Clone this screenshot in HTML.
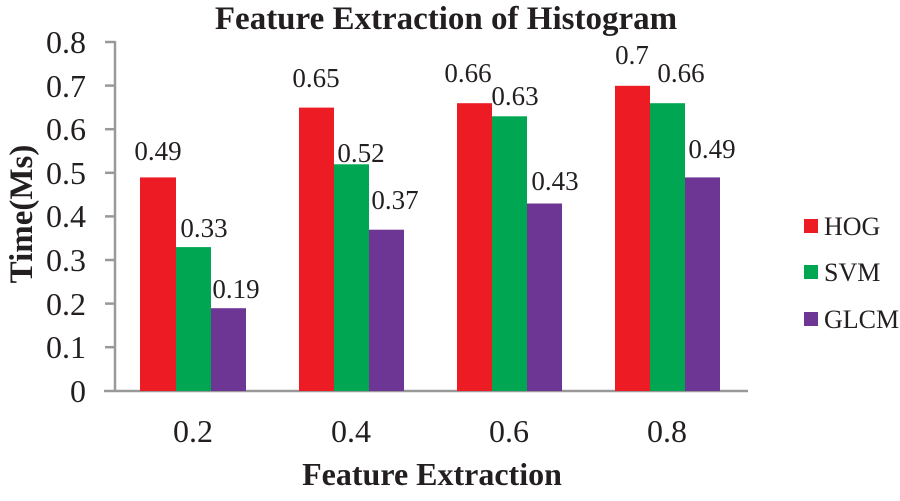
<!DOCTYPE html>
<html><head><style>
html,body{margin:0;padding:0;background:#fff;}
svg text{font-family:"Liberation Serif",serif;fill:#231f20;}
</style></head><body>
<svg width="900" height="496" viewBox="0 0 900 496" xmlns="http://www.w3.org/2000/svg">
<text x="446" y="29" font-size="33" font-weight="bold" text-anchor="middle">Feature Extraction of Histogram</text>
<g stroke="#999" stroke-width="2.5" fill="none">
<line x1="115" y1="41" x2="115" y2="391"/>
<line x1="104" y1="391" x2="748" y2="391"/>
<line x1="105" y1="42" x2="115" y2="42"/>
<line x1="105" y1="85.6" x2="115" y2="85.6"/>
<line x1="105" y1="129.2" x2="115" y2="129.2"/>
<line x1="105" y1="172.8" x2="115" y2="172.8"/>
<line x1="105" y1="216.4" x2="115" y2="216.4"/>
<line x1="105" y1="260" x2="115" y2="260"/>
<line x1="105" y1="303.6" x2="115" y2="303.6"/>
<line x1="105" y1="347.2" x2="115" y2="347.2"/>
</g>
<g font-size="32" text-anchor="end">
<text x="86" y="53">0.8</text><text x="86" y="97">0.7</text><text x="86" y="140">0.6</text><text x="86" y="184">0.5</text>
<text x="86" y="227">0.4</text><text x="86" y="271">0.3</text><text x="86" y="315">0.2</text><text x="86" y="358">0.1</text><text x="86" y="402">0</text>
</g>
<text transform="translate(32,214) rotate(-90)" font-size="33" font-weight="bold" text-anchor="middle">Time(Ms)</text>
<g>
<rect x="140" y="177.4" width="36" height="213.6" fill="#ed1c24"/>
<rect x="176" y="247.1" width="35" height="143.9" fill="#00a651"/>
<rect x="211" y="308.2" width="35" height="82.8" fill="#6e3694"/>
<rect x="299" y="107.6" width="35" height="283.4" fill="#ed1c24"/>
<rect x="334" y="164.3" width="35" height="226.7" fill="#00a651"/>
<rect x="369" y="229.7" width="35" height="161.3" fill="#6e3694"/>
<rect x="457" y="103.2" width="35" height="287.8" fill="#ed1c24"/>
<rect x="492" y="116.3" width="35" height="274.7" fill="#00a651"/>
<rect x="527" y="203.5" width="35" height="187.5" fill="#6e3694"/>
<rect x="615" y="85.8" width="35" height="305.2" fill="#ed1c24"/>
<rect x="650" y="103.2" width="35" height="287.8" fill="#00a651"/>
<rect x="685" y="177.4" width="35" height="213.6" fill="#6e3694"/>
</g>
<g font-size="27" text-anchor="middle">
<text x="158" y="160">0.49</text><text x="204" y="237">0.33</text><text x="236" y="298">0.19</text>
<text x="316" y="87">0.65</text><text x="361" y="162">0.52</text><text x="395" y="209">0.37</text>
<text x="468" y="82">0.66</text><text x="515" y="105">0.63</text><text x="555" y="190">0.43</text>
<text x="632" y="64">0.7</text><text x="681" y="82">0.66</text><text x="712" y="158">0.49</text>
</g>
<g font-size="32" text-anchor="middle">
<text x="193" y="442">0.2</text><text x="351" y="442">0.4</text><text x="509" y="442">0.6</text><text x="667" y="442">0.8</text>
</g>
<text x="432" y="485" font-size="32" font-weight="bold" text-anchor="middle">Feature Extraction</text>
<rect x="804" y="219" width="14" height="14" fill="#ed1c24"/>
<rect x="804" y="265" width="14" height="14" fill="#00a651"/>
<rect x="804" y="312" width="14" height="14" fill="#6e3694"/>
<g font-size="26">
<text x="824" y="235">HOG</text><text x="824" y="281">SVM</text><text x="824" y="328">GLCM</text>
</g>
</svg>
</body></html>
